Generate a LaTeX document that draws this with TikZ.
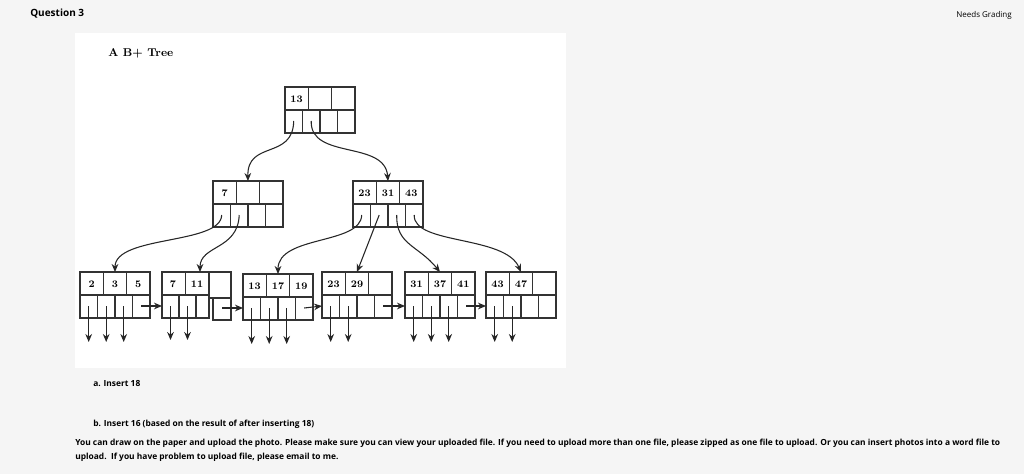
\documentclass[tikz,border=0pt]{standalone}
\usepackage{fontspec}
\newfontfamily\osans{Open Sans}
\usetikzlibrary{arrows.meta}
\definecolor{bgc}{HTML}{F5F5F5}
\tikzset{
  box/.style={draw=black!80,line width=0.8pt},
  ptr/.style={draw=black!85,line width=0.8pt,-{Stealth[length=6pt,width=5pt]}},
  key/.style={font=\bfseries\fontsize{7.5}{8}\selectfont,inner sep=0pt},
  ui/.style={font=\osans\bfseries\fontsize{6.3}{7.5}\selectfont,anchor=west,inner sep=0pt}
}
% \bpnode{name}{x}{y}{k1}{k2}{k3}
\newcommand\bpnode[6]{%
  \draw[box] (#2,#3) rectangle ++(70,46);
  \draw[box] (#2,#3+23) -- ++(70,0);
  \draw[box] (#2+23.3,#3) -- ++(0,23) (#2+46.6,#3) -- ++(0,23);
  \draw[box] (#2+17.5,#3+23) -- ++(0,23) (#2+35,#3+23) -- ++(0,23) (#2+52.5,#3+23) -- ++(0,23);
  \node[key] (#1-k1) at (#2+11.6,#3+12) {#4};
  \node[key] (#1-k2) at (#2+35,#3+12) {#5};
  \node[key] (#1-k3) at (#2+58.3,#3+12) {#6};
  \coordinate (#1-top) at (#2+35,#3);
  \coordinate (#1-in) at (#2,#3+34);
  \coordinate (#1-p1) at (#2+8.7,#3+34);
  \coordinate (#1-p2) at (#2+26.2,#3+34);
  \coordinate (#1-p3) at (#2+43.7,#3+34);
  \coordinate (#1-p4) at (#2+61.2,#3+34);
  \coordinate (#1-d1) at (#2+8.7,#3+70);
  \coordinate (#1-d2) at (#2+26.2,#3+70);
  \coordinate (#1-d3) at (#2+43.7,#3+70);
}
\begin{document}
\begin{tikzpicture}[x=0.75pt,y=-0.75pt]
\fill[bgc] (0,0) rectangle (1024,474);
\useasboundingbox (0,0) rectangle (1024,474);
\fill[white] (75,33) rectangle (566,368);
\node[font=\osans\bfseries\fontsize{7.5}{9}\selectfont,anchor=west,inner sep=0pt] (q) at (30,14) {Question 3};
\node[font=\osans\fontsize{6}{7}\selectfont,anchor=east,inner sep=0pt] (ng) at (1012,15) {Needs Grading};
\node[font=\bfseries\fontsize{8.5}{10}\selectfont,anchor=west,inner sep=0pt] (title) at (108,53) {A B+ Tree};

\bpnode{r}{285}{87}{13}{}{}
\bpnode{a}{213}{181}{7}{}{}
\bpnode{b}{353}{181}{23}{31}{43}
\bpnode{l1}{80}{272}{2}{3}{5}
% leaf 2 (irregular)
\draw[box] (162,272) rectangle (209,318);
\draw[box] (162,295) -- (209,295) (185.5,272) -- (185.5,295);
\draw[box] (179,295) -- (179,318) (196,295) -- (196,318);
\draw[box] (209,272) rectangle (231,298);
\draw[box] (213,298) rectangle (231,320);
\node[key] (l2-k1) at (173,284) {7};
\node[key] (l2-k2) at (197,284) {11};
\coordinate (l2-top) at (200,272);
\coordinate (l2-in) at (162,306);
\coordinate (l2-p4) at (222,308);
\coordinate (l2-in2) at (243,308);
\coordinate (l2-p1) at (170.5,306);
\coordinate (l2-p2) at (187.5,306);
\coordinate (l2-d1) at (170.5,340);
\coordinate (l2-d2) at (187.5,340);
\bpnode{l3}{243}{274}{13}{17}{19}
\bpnode{l4}{322}{272}{23}{29}{}
\bpnode{l5}{405}{272}{31}{37}{41}
\bpnode{l6}{486}{272}{43}{47}{}

% tree pointers
\draw[ptr] (r-p1) .. controls (293,160) and (247,140) .. (a-top);
\draw[ptr] (r-p2) .. controls (310,160) and (385,140) .. (b-top);
\draw[ptr] (a-p1) .. controls (221,245) and (115,235) .. (l1-top);
\draw[ptr] (a-p2) .. controls (238,250) and (200,245) .. (l2-top);
\draw[ptr] (b-p1) .. controls (361,245) and (278,235) .. (l3-top);
\draw[ptr] (b-p2) -- (l4-top);
\draw[ptr] (b-p3) .. controls (396,245) and (418,245) .. (l5-top);
\draw[ptr] (b-p4) .. controls (413,245) and (505,235) .. (l6-top);
% next pointers
\draw[ptr] (l1-p4) -- (l2-in);
\draw[ptr] (l2-p4) -- (l2-in2);
\draw[ptr] (l3-p4) -- (l4-in);
\draw[ptr] (l4-p4) -- (l5-in);
\draw[ptr] (l5-p4) -- (l6-in);
% down pointers
\foreach \n/\k in {l1/3,l3/3,l4/2,l5/3,l6/2,l2/2}{
  \foreach \i in {1,...,\k}{\draw[ptr] (\n-p\i) -- (\n-d\i);}
}

\node[ui] (qa) at (93,384) {a. Insert 18};
\node[ui] (qb) at (93,424) {b. Insert 16 (based on the result of after inserting 18)};
\node[ui] (t1) at (75,443) {You can draw on the paper and upload the photo. Please make sure you can view your uploaded file. If you need to upload more than one file, please zipped as one file to upload. Or you can insert photos into a word file to};
\node[ui] (t2) at (75,457) {upload.\ \ If you have problem to upload file, please email to me.};
\end{tikzpicture}
\end{document}
